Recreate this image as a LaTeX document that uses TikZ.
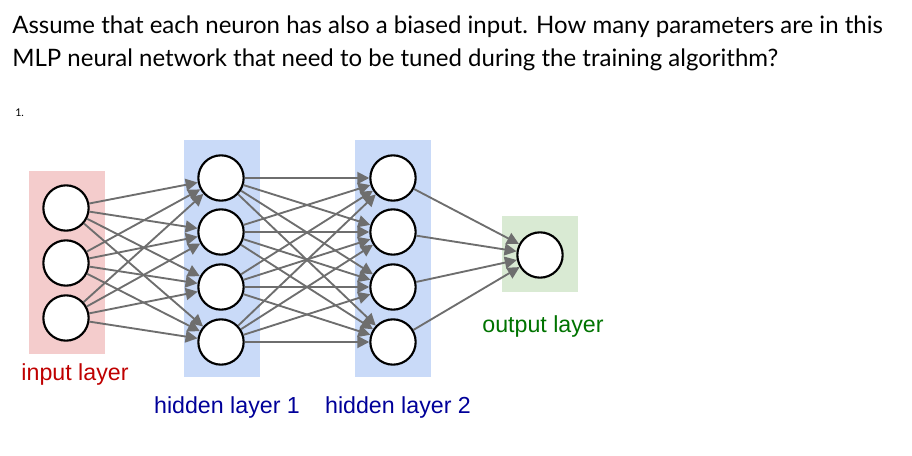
\documentclass[tikz,border=0pt]{standalone}
\usepackage{fontspec}
\setmainfont{Lato}
\newfontfamily\arialf{Liberation Sans}
\usetikzlibrary{arrows.meta}
\definecolor{inbg}{RGB}{244,204,204}
\definecolor{hidbg}{RGB}{201,218,248}
\definecolor{outbg}{RGB}{217,234,211}
\definecolor{edgec}{RGB}{110,110,110}
\begin{document}
\begin{tikzpicture}[x=0.75pt,y=-0.75pt,
  neuron/.style={circle,draw=black,line width=1.6pt,fill=white,minimum size=34pt,inner sep=0pt},
  edge/.style={draw=edgec,line width=1.4pt,-{Triangle[length=9pt,width=9pt]}},
  lbl/.style={font=\arialf\fontsize{17.4}{20}\selectfont}]
\useasboundingbox (0,0) rectangle (912,456);
\node[anchor=base west,inner sep=0pt,font=\fontsize{18}{22}\selectfont] (t1) at (12,34) {Assume that each neuron has also a biased input. How many parameters are in this};
\node[anchor=base west,inner sep=0pt,font=\fontsize{18}{22}\selectfont] (t2) at (12,67) {MLP neural network that need to be tuned during the training algorithm?};
\node[anchor=base west,inner sep=0pt,font=\fontsize{8}{9}\selectfont] (num) at (15,117) {1.};
\fill[inbg] (29,171) rectangle (105,354);
\fill[hidbg] (184,140) rectangle (260,377);
\fill[hidbg] (355,140) rectangle (431,377);
\fill[outbg] (502,216) rectangle (578,292);
\foreach \i/\y in {1/208,2/263,3/318} \node[neuron] (i\i) at (66,\y) {};
\foreach \i/\y in {1/178,2/232,3/287,4/342} {
  \node[neuron] (a\i) at (221,\y) {};
  \node[neuron] (b\i) at (393,\y) {};}
\node[neuron] (o) at (540,255) {};
\foreach \i in {1,2,3} \foreach \j in {1,2,3,4} \draw[edge] (i\i) -- (a\j);
\foreach \i in {1,2,3,4} \foreach \j in {1,2,3,4} \draw[edge] (a\i) -- (b\j);
\foreach \i in {1,2,3,4} \draw[edge] (b\i) -- (o);
\node[lbl,text=red!75!black] (li) at (75,374) {input layer};
\node[lbl,text=blue!60!black] (lh1) at (227,407) {hidden layer 1};
\node[lbl,text=blue!60!black] (lh2) at (398,407) {hidden layer 2};
\node[lbl,text=green!45!black] (lo) at (543,326) {output layer};
\end{tikzpicture}
\end{document}
